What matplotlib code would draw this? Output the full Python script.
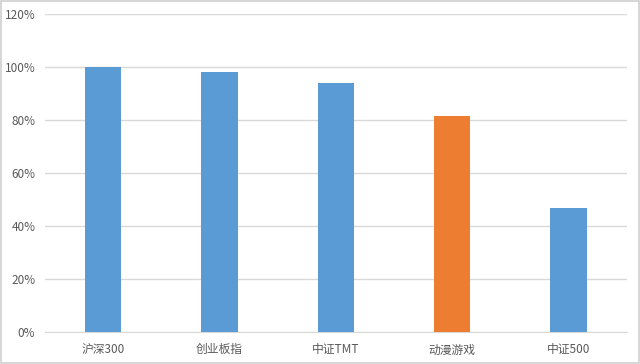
import matplotlib
matplotlib.use("Agg")
import matplotlib.pyplot as plt
from matplotlib.ticker import FuncFormatter
from matplotlib.patches import Rectangle

plt.rcParams['font.family'] = ['Noto Sans CJK SC', 'DejaVu Sans']

categories = ['沪深300', '创业板指', '中证TMT', '动漫游戏', '中证500']
values = [100.0, 98.2, 94.2, 81.5, 47.0]
colors = ['#5B9BD5', '#5B9BD5', '#5B9BD5', '#ED7D31', '#5B9BD5']
yticks = [0, 20, 40, 60, 80, 100, 120]

fig = plt.figure(figsize=(6.4, 3.64), dpi=100)
ax = fig.add_axes([45/640, 1-332.3/364, (626.7-45)/640, (332.3-14.3)/364])

x = range(len(categories))
ax.bar(x, values, width=0.31, color=colors, zorder=3)
ax.set_xlim(-0.5, len(categories)-0.5)
ax.set_ylim(0, 120)
ax.set_yticks(yticks)
ax.yaxis.set_major_formatter(FuncFormatter(lambda v, p: f"{int(v)}%"))
ax.set_xticks(list(x))
ax.set_xticklabels(categories)
ax.grid(axis='y', color='#D9D9D9', linewidth=1, zorder=0)
for s in ['top', 'right', 'left']:
    ax.spines[s].set_visible(False)
ax.spines['bottom'].set_color('#D9D9D9')
ax.tick_params(axis='both', length=0, colors='#595959', labelsize=8.5)
ax.tick_params(axis='y', pad=7)
ax.tick_params(axis='x', pad=8)

fig.patches.append(Rectangle((0.001, 0.002), 0.997, 0.995, transform=fig.transFigure,
                             fill=False, edgecolor='#D0D0D0', linewidth=1.2))
fig.savefig('out.png', dpi=100, facecolor='white')
